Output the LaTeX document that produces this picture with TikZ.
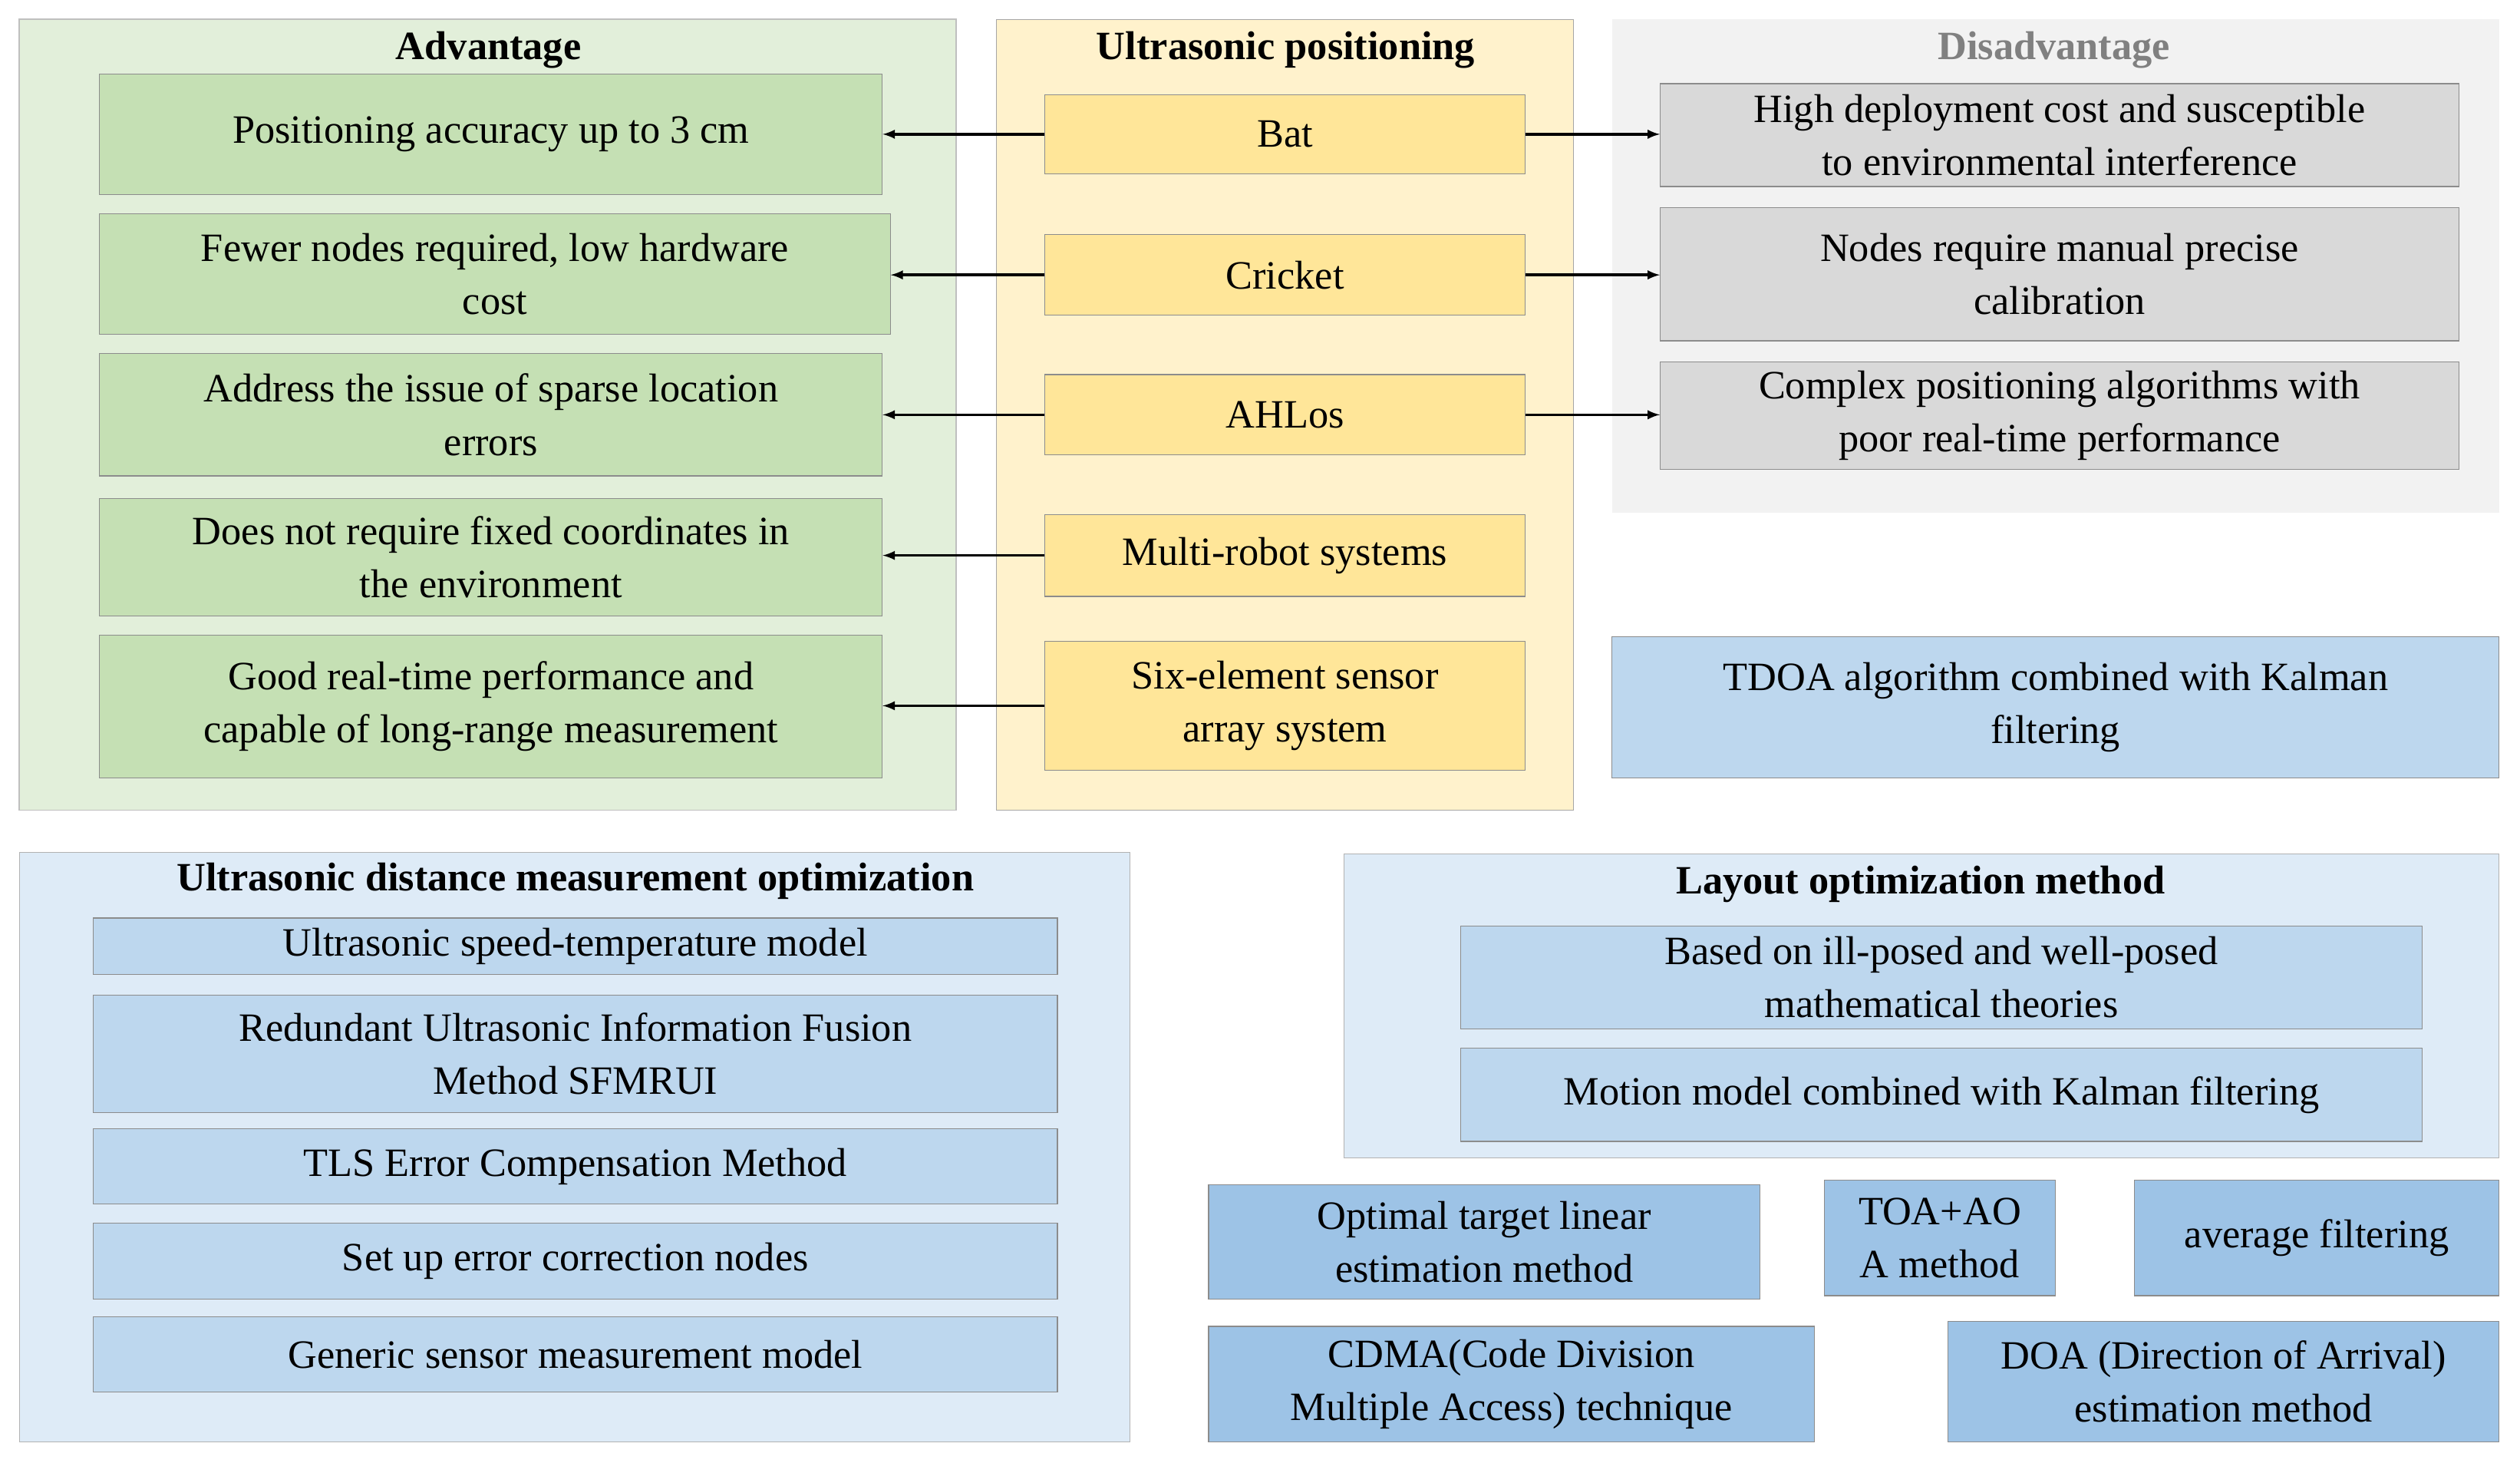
\documentclass[tikz,border=0pt]{standalone}
\usepackage{fontspec}
\setmainfont{Liberation Serif}
\begin{document}
\begin{tikzpicture}[x=1pt,y=-1pt,
  bg/.style={draw=black!25,line width=0.8pt},
  bx/.style={draw=black!45,line width=0.6pt},
  t/.style={align=center,font=\fontsize{25}{33}\selectfont},
  h/.style={font=\fontsize{25}{33}\selectfont\bfseries},
  ar/.style={-latex,line width=1.6pt}]
\useasboundingbox (0,0) rectangle (1568,910);
\definecolor{gbg}{RGB}{226,239,218}\definecolor{gbx}{RGB}{197,224,180}
\definecolor{ybg}{RGB}{255,242,204}\definecolor{ybx}{RGB}{255,230,153}
\definecolor{dbg}{RGB}{242,242,242}\definecolor{dbx}{RGB}{217,217,217}
\definecolor{lbg}{RGB}{222,235,247}\definecolor{lbx}{RGB}{189,215,238}
\definecolor{mbx}{RGB}{157,195,230}
% backgrounds
\fill[gbg,bg] (12,12) rectangle (595,504);
\node[h] at (304,31) {Advantage};
\fill[ybg,draw=black!35] (620,12) rectangle (979,504);
\node[h] at (800,31) {Ultrasonic positioning};
\fill[dbg] (1003,12) rectangle (1555,319);
\node[h,text=black!50] at (1278,31) {Disadvantage};
\fill[lbg,draw=black!30] (12,530) rectangle (703,897);
\node[h] at (358,548) {Ultrasonic distance measurement optimization};
\fill[lbg,draw=black!30] (836,531) rectangle (1555,720);
\node[h] at (1195,550) {Layout optimization method};
% macro for boxes
\newcommand{\mybox}[7]{\fill[#6,bx] (#2,#3) rectangle (#4,#5);
  \node[t] (#1) at ({(#2+#4)/2},{(#3+#5)/2}) [minimum width={#4-#2}, minimum height={#5-#3}] {#7};}
% green
\mybox{a1}{62}{46}{549}{121}{gbx}{Positioning accuracy up to 3 cm}
\mybox{a2}{62}{133}{554}{208}{gbx}{Fewer nodes required, low hardware\\cost}
\mybox{a3}{62}{220}{549}{296}{gbx}{Address the issue of sparse location\\errors}
\mybox{a4}{62}{310}{549}{383}{gbx}{Does not require fixed coordinates in\\the environment}
\mybox{a5}{62}{395}{549}{484}{gbx}{Good real-time performance and\\capable of long-range measurement}
% yellow
\mybox{u1}{650}{59}{949}{108}{ybx}{Bat}
\mybox{u2}{650}{146}{949}{196}{ybx}{Cricket}
\mybox{u3}{650}{233}{949}{283}{ybx}{AHLos}
\mybox{u4}{650}{320}{949}{371}{ybx}{Multi-robot systems}
\mybox{u5}{650}{399}{949}{479}{ybx}{Six-element sensor\\array system}
% grey
\mybox{d1}{1033}{52}{1530}{116}{dbx}{High deployment cost and susceptible\\to environmental interference}
\mybox{d2}{1033}{129}{1530}{212}{dbx}{Nodes require manual precise\\calibration}
\mybox{d3}{1033}{225}{1530}{292}{dbx}{Complex positioning algorithms with\\poor real-time performance}
\mybox{td}{1003}{396}{1555}{484}{lbx}{TDOA algorithm combined with Kalman\\filtering}
% bottom left
\mybox{b1}{58}{571}{658}{606}{lbx}{Ultrasonic speed-temperature model}
\mybox{b2}{58}{619}{658}{692}{lbx}{Redundant Ultrasonic Information Fusion\\Method SFMRUI}
\mybox{b3}{58}{702}{658}{749}{lbx}{TLS Error Compensation Method}
\mybox{b4}{58}{761}{658}{808}{lbx}{Set up error correction nodes}
\mybox{b5}{58}{819}{658}{866}{lbx}{Generic sensor measurement model}
% layout
\mybox{l1}{909}{576}{1507}{640}{lbx}{Based on ill-posed and well-posed\\mathematical theories}
\mybox{l2}{909}{652}{1507}{710}{lbx}{Motion model combined with Kalman filtering}
% others
\mybox{o1}{752}{737}{1095}{808}{mbx}{Optimal target linear\\estimation method}
\mybox{o2}{1135}{734}{1279}{806}{mbx}{TOA+AO\\A method}
\mybox{o3}{1328}{734}{1555}{806}{mbx}{average filtering}
\mybox{o4}{752}{825}{1129}{897}{mbx}{CDMA(Code Division\\Multiple Access) technique}
\mybox{o5}{1212}{822}{1555}{897}{mbx}{DOA (Direction of Arrival)\\estimation method}
% arrows
\draw[ar] (u1.west) -- (u1.west -| a1.east);
\draw[ar] (u2.west) -- (u2.west -| a2.east);
\draw[ar] (u3.west) -- (u3.west -| a3.east);
\draw[ar] (u4.west) -- (u4.west -| a4.east);
\draw[ar] (u5.west) -- (u5.west -| a5.east);
\draw[ar] (u1.east) -- (u1.east -| d1.west);
\draw[ar] (u2.east) -- (u2.east -| d2.west);
\draw[ar] (u3.east) -- (u3.east -| d3.west);
\end{tikzpicture}
\end{document}
